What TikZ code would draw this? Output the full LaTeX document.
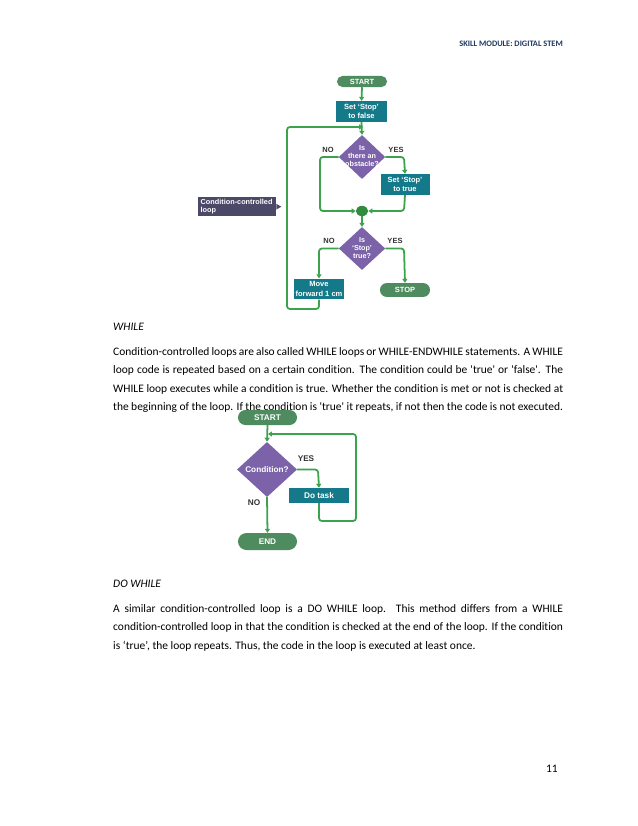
\documentclass[tikz,border=0pt]{standalone}
\usepackage{fontspec}
\setmainfont{Carlito}[Ligatures={TeX,NoCommon}]
\newfontfamily\diag{Liberation Sans}
\usetikzlibrary{shapes.geometric,arrows.meta}
\definecolor{tealbox}{HTML}{147A8A}
\definecolor{purp}{HTML}{7B62A9}
\definecolor{pillg}{HTML}{4E8C60}
\definecolor{lineg}{HTML}{3AA34B}
\definecolor{labelc}{HTML}{4B4868}
\definecolor{hdr}{HTML}{1F3864}
\definecolor{lbl}{HTML}{333333}
\begin{document}
\begin{tikzpicture}[x=0.9592pt,y=-0.9592pt,
  dfont/.style={font=\diag\bfseries\fontsize{7.2}{8.9}\selectfont},
  dfontb/.style={font=\diag\bfseries\fontsize{7.9}{9.3}\selectfont},
  proc/.style={rectangle,fill=tealbox,text=white,align=center,inner sep=0pt},
  term/.style={rectangle,fill=pillg,text=white,align=center,inner sep=0pt},
  dec/.style={diamond,fill=purp,inner sep=0pt},
  dtext/.style={text=white,align=center,inner sep=0pt},
  dtsmall/.style={font=\diag\bfseries\fontsize{6.9}{8}\selectfont},
  yn/.style={text=lbl,inner sep=0pt},
  flow/.style={draw=lineg,line width=1.7pt,rounded corners=2.8pt,-{Triangle[width=4.8pt,length=3.8pt]}},
  body/.style={inner sep=0pt,anchor=base west}
]
\useasboundingbox[fill=white] (0,0) rectangle (638,826);

% header
\node[inner sep=0pt,anchor=base east,text=hdr,font=\bfseries\fontsize{8}{9.6}\selectfont] (hd) at (563,46) {SKILL MODULE: DIGITAL STEM};

% ---------- diagram 1 ----------
\begin{scope}[dfont]
\node[term,minimum width=48pt,minimum height=10.6pt,rounded corners=5.3pt] (s1) at (362,81.5) {START};
\node[proc,minimum width=48.9pt,minimum height=20.1pt] (setf) at (361.5,111.5) {Set ‘Stop’\\to false};
\node[dec,minimum width=44.6pt,minimum height=42.2pt] (d1) at (362,157) {};
\node[dtext,dtsmall] (d1t) at (362,156) {Is\\there an\\obstacle?};
\node[proc,minimum width=47pt,minimum height=20.1pt] (sett) at (405,184.5) {Set ‘Stop’\\to true};
\node[ellipse,fill=lineg!85!black,minimum width=11.8pt,minimum height=9.8pt,inner sep=0pt] (m) at (362,211) {};
\node[dec,minimum width=44.6pt,minimum height=41.2pt] (d2) at (362,248.5) {};
\node[dtext,dtsmall] (d2t) at (362,248) {Is\\‘Stop’\\true?};
\node[proc,minimum width=48pt,minimum height=20.1pt] (mv) at (319,289) {Move\\forward 1 cm};
\node[term,minimum width=48pt,minimum height=13.4pt,rounded corners=6.7pt] (st) at (405,290) {STOP};
\node[yn] (no1) at (328,150) {NO};
\node[yn] (yes1) at (396,150) {YES};
\node[yn] (no2) at (329,241) {NO};
\node[yn] (yes2) at (395,241) {YES};
\end{scope}
\coordinate (lp) at (363,127);
\draw[flow] (s1.south) -- (setf.north);
\draw[flow] (setf.south) -- (d1.north);
\draw[flow] (d1.west) -- (320,157) -- (320,211) -- (m.west);
\draw[flow] (d1.east) -- (404,157) -- (sett.north);
\draw[flow] (sett.south) -- (404,211) -- (m.east);
\draw[flow] (m.south) -- (d2.north);
\draw[flow] (d2.west) -- (319,248.5) -- (mv.north);
\draw[flow] (d2.east) -- (404,248.5) -- (st.north);
\draw[flow] (mv.south) -- (319,309) -- (287,309) -- (287,127) -- (lp);

% label
\node[rectangle,fill=labelc,text=white,align=left,anchor=north west,minimum width=74.8pt,minimum height=18.2pt,text width=70pt,inner xsep=2.4pt,inner ysep=1pt,font=\diag\bfseries\fontsize{7}{7.2}\selectfont] (lab) at (198,197) {Condition-controlled\\loop};
\fill[labelc] ([yshift=2.7pt]lab.east) -- ([xshift=4.7pt]lab.east) -- ([yshift=-2.7pt]lab.east) -- cycle;

% ---------- text ----------
\node[body,font=\itshape\fontsize{11}{13}\selectfont] (t1) at (113,330) {WHILE};
\node[body,font=\fontsize{11}{17.9}\selectfont] (p1) at (113,355) {\vtop{\hsize=431.6pt\parindent=0pt\parfillskip=0pt
Condition-controlled loops are also called WHILE loops or WHILE-ENDWHILE statements. A WHILE\linebreak
loop code is repeated based on a certain condition. The condition could be \textquotesingle true\textquotesingle{} or \textquotesingle false\textquotesingle. The\linebreak
WHILE loop executes while a condition is true. Whether the condition is met or not is checked at\linebreak
the beginning of the loop. If the condition is \textquotesingle true\textquotesingle{} it repeats, if not then the code is not executed.}};

% ---------- diagram 2 ----------
\begin{scope}[dfontb]
\node[term,minimum width=56.6pt,minimum height=14.4pt,rounded corners=7.2pt] (s2) at (267.5,417.5) {START};
\node[dec,minimum width=57.6pt,minimum height=52.8pt] (cd) at (267,469.5) {};
\node[dtext] (cdt) at (267,469.5) {Condition?};
\node[proc,minimum width=57.6pt,minimum height=14.4pt] (tk) at (319,495.5) {Do task};
\node[term,minimum width=56.6pt,minimum height=16.3pt,rounded corners=8.1pt] (en) at (267.5,541.5) {END};
\node[yn] (yes3) at (306,459) {YES};
\node[yn] (no3) at (254,503) {NO};
\end{scope}
\coordinate (lp2) at (268,434);
\draw[flow] (s2.south) -- (cd.north);
\draw[flow] (cd.east) -- (318,469.5) -- (tk.north);
\draw[flow] (tk.south) -- (319,521) -- (356,521) -- (356,434) -- (lp2);
\draw[flow] (cd.south) -- (en.north);

\node[body,font=\itshape\fontsize{11}{13}\selectfont] (t2) at (113,587) {DO WHILE};
\node[body,font=\fontsize{11}{17.9}\selectfont] (p2) at (113,612) {\vtop{\hsize=431.6pt\parindent=0pt
A similar condition-controlled loop is a DO WHILE loop. This method differs from a WHILE\linebreak
condition-controlled loop in that the condition is checked at the end of the loop. If the condition\linebreak
is ‘true’, the loop repeats. Thus, the code in the loop is executed at least once.}};

\node[inner sep=0pt,anchor=base east,font=\fontsize{11}{13}\selectfont] (pg) at (558,772) {11};
\end{tikzpicture}
\end{document}
